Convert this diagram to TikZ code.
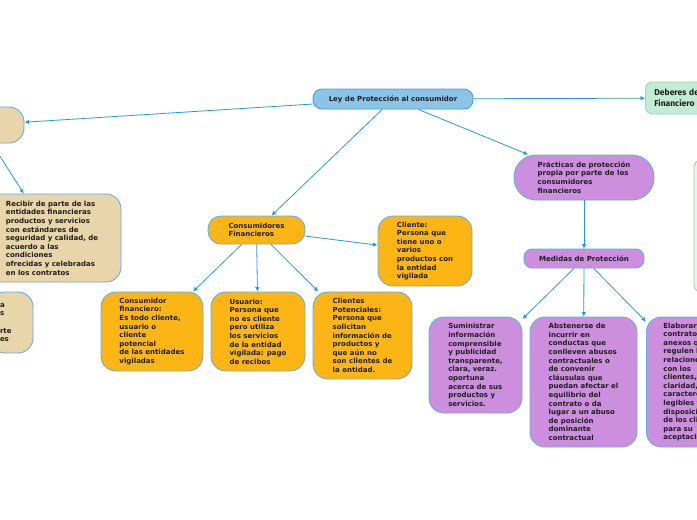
\documentclass[tikz,border=0pt]{standalone}
\usepackage{fontspec}
\setmainfont{DejaVu Sans}
\newfontfamily\firafont{Fira Sans}
\usetikzlibrary{arrows.meta}
\definecolor{c_ley}{HTML}{8CC4E8}
\definecolor{c_leyline}{HTML}{4A9DDA}
\definecolor{c_line}{HTML}{62AEE6}
\definecolor{c_tan}{HTML}{E8D5A9}
\definecolor{c_orange}{HTML}{FBB616}
\definecolor{c_purple}{HTML}{CC8FDD}
\definecolor{c_mint}{HTML}{C2ECD4}
\definecolor{c_mintline}{HTML}{92D8B6}
\definecolor{c_pale}{HTML}{E2F7EE}
\definecolor{c_arrow}{HTML}{2898E0}
\definecolor{c_text}{HTML}{1E1E1E}
\tikzstyle{node_base} = [draw=c_line, line width=0.9pt, inner sep=0pt, align=left, text=c_text, font=\bfseries\fontsize{7}{8.6}\selectfont]
\tikzstyle{node_ley} = [node_base, fill=c_ley, draw=c_leyline, rounded corners=9pt, align=center]
\tikzstyle{node_tan} = [node_base, fill=c_tan, rounded corners=15pt]
\tikzstyle{node_orange} = [node_base, fill=c_orange, rounded corners=15pt]
\tikzstyle{node_purple} = [node_base, fill=c_purple, rounded corners=15pt]
\tikzstyle{node_mint} = [node_base, fill=c_mint, draw=c_mintline, rounded corners=7pt, font=\firafont\bfseries\fontsize{8.5}{11}\selectfont]
\tikzstyle{edge_arrow} = [c_arrow, line width=0.8pt, -{Latex[length=4.5pt,width=4.5pt]}]

\begin{document}
\begin{tikzpicture}[x=1pt,y=-1pt]
\useasboundingbox[fill=white] (0,0) rectangle (697,520);
\clip (0,0) rectangle (697,520);

\node (ley) at (393,99) [node_ley, minimum width=160, minimum height=20] {Ley de Protección al consumidor};
\node (deberes) at (645,98) [node_mint, anchor=west, inner xsep=9pt, text width=102, minimum height=32] {Deberes de\\Financiero};
\node (pale) at (728,226) [node_base, fill=c_pale, draw=c_mintline, rounded corners=7pt, minimum width=68, minimum height=132] {};

% rama de derechos
\node (derechos) at (-20,125) [node_tan, minimum width=88, minimum height=36] {};
\node (recibir) at (52,238) [node_tan, minimum width=138, minimum height=88] {Recibir de parte de las\\entidades financieras\\productos y servicios\\con estándares de\\seguridad y calidad, de\\acuerdo a las\\condiciones\\ofrecidas y celebradas\\en los contratos};
\node (educacion) at (11.5,322.5) [node_tan, inner xsep=10pt, text width=23, minimum height=61] {a\\s\\[8.6pt]rte\\es\\[2pt]};

% consumidores
\node (consumidores) at (256.5,230) [node_orange, rounded corners=13pt, minimum width=97, minimum height=28] {Consumidores\\Financieros};
\node (cliente) at (425,251) [node_orange, minimum width=94, minimum height=70] {Cliente:\\Persona que\\tiene uno o\\varios\\productos con\\la entidad\\vigilada};
\node (consumidor) at (152,331.5) [node_orange, minimum width=102, minimum height=79] {Consumidor\\financiero:\\Es todo cliente,\\usuario o\\cliente\\potencial\\de las entidades\\vigiladas};
\node (usuario) at (258,331.5) [node_orange, minimum width=94, minimum height=79] {Usuario:\\Persona que\\no es cliente\\pero utiliza\\los servicios\\de la entidad\\vigilada: pago\\de recibos};
\node (potenciales) at (362.5,335.5) [node_orange, minimum width=99, minimum height=87] {Clientes\\Potenciales:\\Persona que\\solicitan\\información de\\productos y\\que aún no\\son clientes de\\la entidad.};

% practicas de proteccion
\node (practicas) at (584,177.5) [node_purple, rounded corners=22pt, minimum width=140, minimum height=45] {Prácticas de protección\\propia por parte de los\\consumidores\\financieros};
\node (medidas) at (584,258.5) [node_purple, rounded corners=8pt, align=center, minimum width=120, minimum height=19] {Medidas de Protección};
\node (suministrar) at (475.5,365) [node_purple, minimum width=93, minimum height=96] {Suministrar\\información\\comprensible\\y publicidad\\transparente,\\clara, veraz.\\oportuna\\acerca de sus\\productos y\\servicios.};
\node (abstenerse) at (583.5,382) [node_purple, minimum width=107, minimum height=130] {Abstenerse de\\incurrir en\\conductas que\\conlleven abusos\\contractuales o\\de convenir\\cláusulas que\\puedan afectar el\\equilibrio del\\contrato o da\\lugar a un abuso\\de posición\\dominante\\contractual};
\node (elaborar) at (646,382) [node_purple, anchor=west, inner xsep=17pt, text width=84, minimum height=130] {Elaborar\\contratos y\\anexos que\\regulen las\\relaciones\\con los\\clientes, con\\claridad, en\\caracteres\\legibles y\\disposición\\de los clientes\\para su\\aceptación};

\draw[edge_arrow] (ley) -- (deberes);
\draw[edge_arrow] (ley) -- (derechos);
\draw[edge_arrow] (derechos) -- (recibir);
\draw[edge_arrow] (ley) -- (consumidores);
\draw[edge_arrow] (ley) -- (practicas);

\draw[edge_arrow] (consumidores) -- (cliente);
\draw[edge_arrow] (consumidores) -- (consumidor);
\draw[edge_arrow] (consumidores) -- (usuario);
\draw[edge_arrow] (consumidores) -- (potenciales);

\draw[edge_arrow] (practicas) -- (medidas);
\draw[edge_arrow] (medidas) -- (suministrar);
\draw[edge_arrow] (medidas) -- (abstenerse);
\draw[edge_arrow] (medidas) -- (elaborar);
\end{tikzpicture}
\end{document}
